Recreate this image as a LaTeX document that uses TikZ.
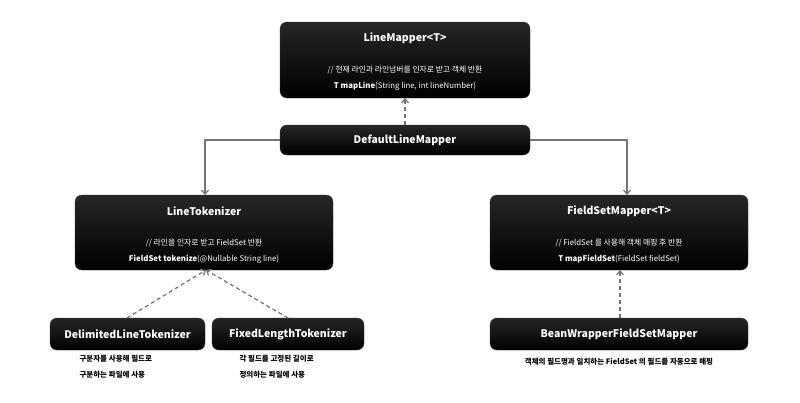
\documentclass[tikz,border=0pt]{standalone}
\usepackage{fontspec}
\setmainfont{Noto Sans CJK KR}
\usetikzlibrary{arrows.meta}
\begin{document}
\begin{tikzpicture}[x=1pt,y=-1pt,
  box/.style={draw=black!80,rounded corners=7pt,top color=black!85,bottom color=black,text=white,inner sep=0pt},
  ttl/.style={text=white,font=\bfseries\fontsize{10.5}{12}\selectfont},
  sub/.style={text=white,font=\fontsize{7.8}{9}\selectfont},
  note/.style={text=black,font=\bfseries\fontsize{7.5}{16}\selectfont,align=left},
  conn/.style={draw=black!55,line width=1.2pt,-{Straight Barb[length=4pt,width=7pt]}},
  dconn/.style={conn,dashed,dash pattern=on 4pt off 3pt}]
\useasboundingbox (0,0) rectangle (800,402);
% boxes
\draw[box] (280,22) rectangle (530,98); \coordinate (lmT) at (405,98);
\node[ttl] (lm) at (405,38) {LineMapper<T>};
\node[sub] (lm1) at (405,70) {// 현재 라인과 라인넘버를 인자로 받고 객체 반환};
\node[sub] (lm2) at (405,86) {\textbf{T mapLine}(String line, int lineNumber)};

\draw[box] (280,125) rectangle (530,155);
\node[ttl] (dlm) at (405,140) {DefaultLineMapper};
\coordinate (dlmT) at (405,125); \coordinate (dlmL) at (280,140); \coordinate (dlmR) at (530,140);

\draw[box] (75,195) rectangle (333,270);
\node[ttl] (lt) at (204,211) {LineTokenizer};
\node[sub] (lt1) at (204,243) {// 라인을 인자로 받고 FieldSet 반환};
\node[sub] (lt2) at (204,259) {\textbf{FieldSet tokenize}(@Nullable String line)};
\coordinate (ltT) at (205,195); \coordinate (ltB) at (206,270);

\draw[box] (490,195) rectangle (748,270);
\node[ttl] (fsm) at (619,211) {FieldSetMapper<T>};
\node[sub] (fsm1) at (619,243) {// FieldSet 를 사용해 객체 매핑 후 반환};
\node[sub] (fsm2) at (619,259) {\textbf{T mapFieldSet}(FieldSet fieldSet)};
\coordinate (fsmT) at (627,195); \coordinate (fsmB) at (620,270);

\draw[box] (50,318) rectangle (205,350);
\node[ttl] (dlt) at (127.5,334) {DelimitedLineTokenizer};
\draw[box] (212,318) rectangle (364,350);
\node[ttl] (flt) at (288,334) {FixedLengthTokenizer};
\draw[box] (490,318) rectangle (748,350);
\node[ttl] (bw) at (619,334) {BeanWrapperFieldSetMapper};
\coordinate (dltT) at (127,318); \coordinate (fltT) at (288,318); \coordinate (bwT) at (620,318);

\node[note,anchor=north west] (n1) at (76,352) {구분자를 사용해 필드로\\구분하는 파일에 사용};
\node[note,anchor=north west] (n2) at (236,352) {각 필드를 고정된 길이로\\정의하는 파일에 사용};
\node[note] (n3) at (619,362) {객체의 필드명과 일치하는 FieldSet 의 필드를 자동으로 매핑};

% connectors
\draw[dconn] (dlmT) -- (lmT);
\draw[conn] (dlmL) -| (ltT);
\draw[conn] (dlmR) -| (fsmT);
\draw[dconn] (dltT) -- (ltB);
\draw[dconn] (fltT) -- (ltB);
\draw[dconn] (bwT) -- (fsmB);
\end{tikzpicture}
\end{document}
